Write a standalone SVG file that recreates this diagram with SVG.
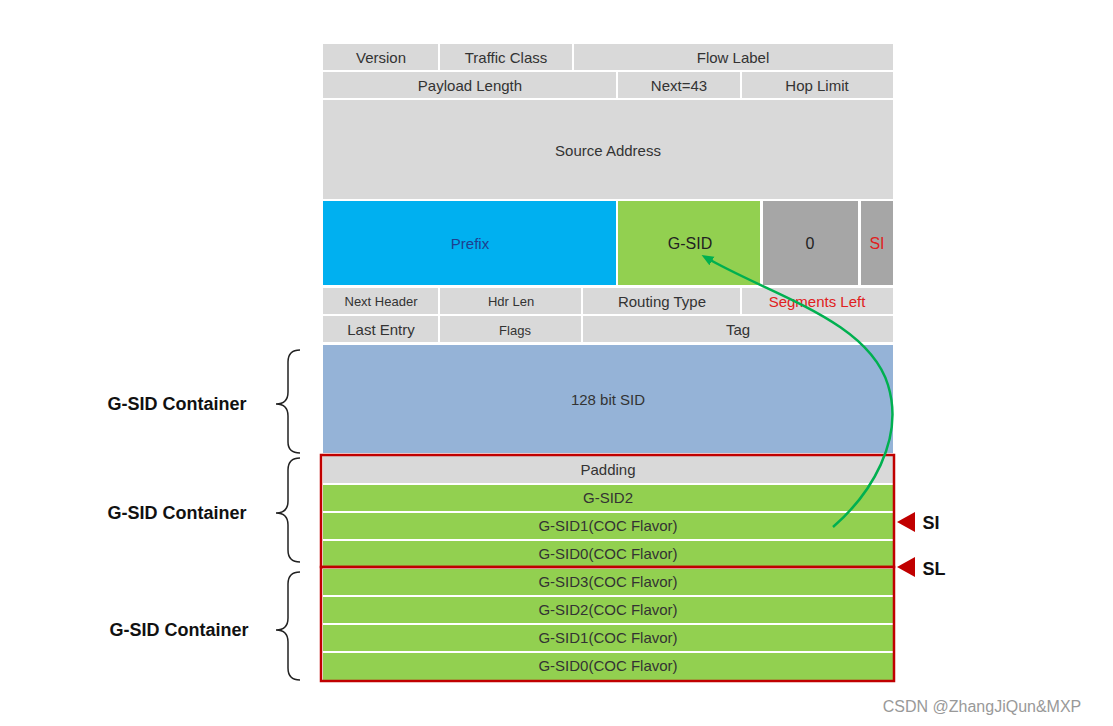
<svg xmlns="http://www.w3.org/2000/svg" width="1113" height="726" viewBox="0 0 1113 726">
<style>
.g{fill:#d9d9d9}.gr{fill:#92d050}
text{font-family:"Liberation Sans",Arial,sans-serif;font-size:15px;fill:#333;text-anchor:middle;dominant-baseline:central}
.s{font-size:13px}.b{font-weight:bold;font-size:18px;fill:#111}
.br{fill:none;stroke:#222;stroke-width:1.5}
</style>
<defs><marker id="ah" markerUnits="userSpaceOnUse" markerWidth="12" markerHeight="12" refX="8" refY="6" orient="auto"><path d="M0,1L12,6L0,11z" fill="#00b050"/></marker></defs>
<rect width="1113" height="726" fill="#fff"/>
<g id="hdr">
<rect class="g" x="323" y="44" width="115" height="26"/><text x="381" y="57">Version</text>
<rect class="g" x="440" y="44" width="132" height="26"/><text x="506" y="57">Traffic Class</text>
<rect class="g" x="574" y="44" width="319" height="26"/><text x="733" y="57">Flow Label</text>
<rect class="g" x="323" y="72" width="293" height="26"/><text x="470" y="85">Payload Length</text>
<rect class="g" x="618" y="72" width="122" height="26"/><text x="679" y="85">Next=43</text>
<rect class="g" x="742" y="72" width="151" height="26"/><text x="817" y="85">Hop Limit</text>
<rect class="g" x="323" y="100" width="570" height="99"/><text x="608" y="150">Source Address</text>
</g>
<g id="da">
<rect x="323" y="201" width="293" height="84" fill="#00b0f0"/><text x="470" y="243" style="fill:#1f3f8f">Prefix</text>
<rect class="gr" x="618" y="201" width="142" height="84"/><text x="690" y="243" style="font-size:16px;fill:#222">G-SID</text>
<rect x="763" y="201" width="95" height="84" fill="#a6a6a6"/><text x="810" y="243" style="font-size:16px;fill:#222">0</text>
<rect x="861" y="201" width="32" height="84" fill="#a6a6a6"/><text x="877" y="243" style="font-size:16px;fill:#e02020">SI</text>
</g>
<g id="srh">
<rect class="g" x="323" y="288" width="115" height="26"/><text class="s" x="381" y="301">Next Header</text>
<rect class="g" x="440" y="288" width="141" height="26"/><text class="s" x="511" y="301">Hdr Len</text>
<rect class="g" x="583" y="288" width="157" height="26"/><text x="662" y="301">Routing Type</text>
<rect class="g" x="742" y="288" width="151" height="26"/><text x="817" y="301" style="fill:#e02020">Segments Left</text>
<rect class="g" x="323" y="316" width="115" height="26"/><text x="381" y="329">Last Entry</text>
<rect class="g" x="440" y="316" width="141" height="26"/><text class="s" x="515" y="330">Flags</text>
<rect class="g" x="583" y="316" width="310" height="26"/><text x="738" y="329">Tag</text>
<rect x="323" y="345" width="570" height="108" fill="#95b3d7"/><text x="608" y="399">128 bit SID</text>
</g>
<g id="c2">
<rect class="g" x="323" y="456" width="570" height="27"/><text x="608" y="469">Padding</text>
<rect class="gr" x="323" y="485" width="570" height="26"/><text x="608" y="497">G-SID2</text>
<rect class="gr" x="323" y="513" width="570" height="26"/><text x="608" y="525">G-SID1(COC Flavor)</text>
<rect class="gr" x="323" y="541" width="570" height="26"/><text x="608" y="553">G-SID0(COC Flavor)</text>
<rect x="321" y="455" width="573" height="112" fill="none" stroke="#c00000" stroke-width="2.5"/>
</g>
<g id="c3">
<rect class="gr" x="323" y="569" width="570" height="26"/><text x="608" y="581">G-SID3(COC Flavor)</text>
<rect class="gr" x="323" y="597" width="570" height="26"/><text x="608" y="609">G-SID2(COC Flavor)</text>
<rect class="gr" x="323" y="625" width="570" height="26"/><text x="608" y="637">G-SID1(COC Flavor)</text>
<rect class="gr" x="323" y="653" width="570" height="27"/><text x="608" y="665">G-SID0(COC Flavor)</text>
<rect x="321" y="567" width="573" height="114" fill="none" stroke="#c00000" stroke-width="2.5"/>
</g>
<g id="braces">
<path class="br" d="M300,350 Q288,350 288,362 L288,392 Q288,404 276,404 Q288,404 288,416 L288,442 Q288,453 300,453"/>
<text class="b" x="177" y="404">G-SID Container</text>
<path class="br" d="M300,458 Q288,458 288,470 L288,501 Q288,513 276,513 Q288,513 288,525 L288,550 Q288,562 300,562"/>
<text class="b" x="177" y="513">G-SID Container</text>
<path class="br" d="M300,572 Q288,572 288,584 L288,618 Q288,630 276,630 Q288,630 288,642 L288,668 Q288,680 300,680"/>
<text class="b" x="179" y="630">G-SID Container</text>
</g>
<g id="connectors">
<path d="M833,527 C870,495 905,440 888,385 C868,320 770,295 705,257" fill="none" stroke="#00b050" stroke-width="2.5" marker-end="url(#ah)"/>
</g>
<g id="ptrs">
<polygon points="897,522 915,512 915,532" fill="#c00000"/><text class="b" x="931" y="523">SI</text>
<polygon points="897,567 915,557 915,577" fill="#c00000"/><text class="b" x="934" y="569">SL</text>
</g>
<text x="982" y="706" style="font-size:16px;fill:#999">CSDN @ZhangJiQun&amp;MXP</text>
</svg>
